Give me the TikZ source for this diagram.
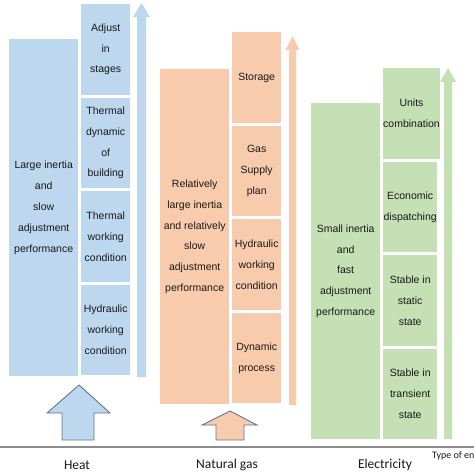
\documentclass[tikz,border=0pt]{standalone}
\usepackage{fontspec}
\newfontfamily\boxfont{Liberation Sans}
\newfontfamily\labfont{Carlito}
\definecolor{heatfill}{HTML}{BDD7EE}
\definecolor{gasfill}{HTML}{F8CBAD}
\definecolor{elecfill}{HTML}{C5E0B4}
\definecolor{arrowedge}{HTML}{60778F}
\definecolor{axisgray}{HTML}{8C8C8C}
\tikzset{
  colbox/.style={rectangle, inner sep=0pt, anchor=north west, align=center,
    text=black!90, font=\boxfont\fontsize{10.5}{20.8}\selectfont},
  bigbox/.style={colbox, minimum width=69pt, minimum height=336pt},
  smallbox/.style={colbox, minimum width=49pt, minimum height=90.5pt},
  energylabel/.style={font=\labfont\fontsize{13.5}{16}\selectfont, text=black!90}
}
\begin{document}
\begin{tikzpicture}[x=1pt,y=-1pt]
  \useasboundingbox (0,0) rectangle (474,474);
  % heat
  \node[bigbox, fill=heatfill, minimum height=337pt] (heatbig) at (9,39)
    {Large inertia\\and\\slow\\adjustment\\performance};
  \node[smallbox, fill=heatfill] (heatA) at (81,4) {Adjust\\in\\stages};
  \node[smallbox, fill=heatfill] (heatB) at (81,97.5) {Thermal\\dynamic\\of\\building};
  \node[smallbox, fill=heatfill] (heatC) at (81,191) {Thermal\\working\\condition};
  \node[smallbox, fill=heatfill] (heatD) at (81,284.5) {Hydraulic\\working\\condition};
  \fill[heatfill] (137,377) -- (137,17) -- (133,17) -- (141.5,3)
    -- (150,17) -- (146,17) -- (146,377) -- cycle;
  \draw[arrowedge, fill=heatfill, line width=0.9pt, line join=miter]
    (79,385) -- (110,413) -- (94,413) -- (94,440) -- (62,440) -- (62,413)
    -- (47,413) -- cycle;
  % natural gas
  \node[bigbox, fill=gasfill, minimum height=335pt] (gasbig) at (160,69)
    {Relatively\\large inertia\\and relatively\\slow\\adjustment\\performance};
  \node[smallbox, fill=gasfill] (gasA) at (232,32) {Storage};
  \node[smallbox, fill=gasfill] (gasB) at (232,125.5) {Gas\\Supply\\plan};
  \node[smallbox, fill=gasfill] (gasC) at (232,219) {Hydraulic\\working\\condition};
  \node[smallbox, fill=gasfill] (gasD) at (232,312.5) {Dynamic\\process};
  \fill[gasfill] (289,405) -- (289,50) -- (285.5,50) -- (292.5,36)
    -- (299.5,50) -- (296,50) -- (296,405) -- cycle;
  \draw[arrowedge, fill=gasfill, line width=0.9pt, line join=miter]
    (230,411) -- (257,425) -- (244,425) -- (244,440) -- (216,440) -- (216,425)
    -- (202,425) -- cycle;
  % electricity
  \node[bigbox, fill=elecfill] (elecbig) at (311,103)
    {Small inertia\\and\\fast\\adjustment\\performance};
  \node[smallbox, fill=elecfill, minimum width=54pt] (elecA) at (383,68) {Units\\combination};
  \node[smallbox, fill=elecfill, minimum width=54pt] (elecB) at (383,161.5) {Economic\\dispatching};
  \node[smallbox, fill=elecfill, minimum width=54pt] (elecC) at (383,255) {Stable in\\static\\state};
  \node[smallbox, fill=elecfill, minimum width=54pt] (elecD) at (383,348.5) {Stable in\\transient\\state};
  \fill[elecfill] (444,439) -- (444,82) -- (440,82) -- (448,68)
    -- (456,82) -- (452,82) -- (452,439) -- cycle;
  % axis
  \draw[axisgray, line width=2pt] (0,447) -- (474,447);
  \node[energylabel] (heatlab) at (77,465) {Heat};
  \node[energylabel] (gaslab) at (227,465) {Natural gas};
  \node[energylabel] (eleclab) at (385,465) {Electricity};
  \node[anchor=west, inner sep=0pt, font=\labfont\fontsize{10}{12}\selectfont,
    text=black!90] (typelab) at (432,456) {Type of energy};
\end{tikzpicture}
\end{document}
